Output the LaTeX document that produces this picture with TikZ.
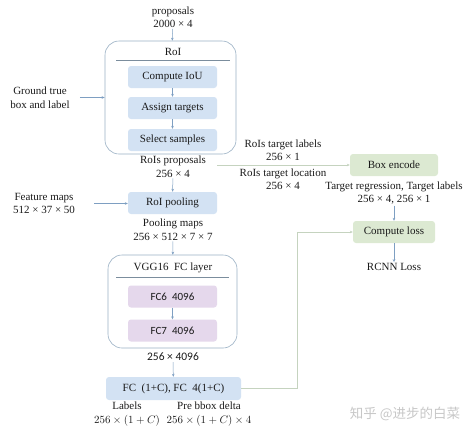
\documentclass[tikz,border=0pt]{standalone}
\usepackage{fontspec}
\setmainfont{Liberation Serif}
\newfontfamily\calfont{Carlito}
\newfontfamily\cjkfont{Noto Sans CJK SC}
\usetikzlibrary{arrows.meta,positioning,calc}
\definecolor{rcBlue}{HTML}{D3E2F3}
\definecolor{rcPurple}{HTML}{E5D8EC}
\definecolor{rcGreen}{HTML}{DCE9D2}
\definecolor{rcFrame}{HTML}{9AB0C4}
\definecolor{rcArrow}{HTML}{7E9FC2}
\definecolor{rcLine}{HTML}{C5D3BF}
\definecolor{rcInk}{HTML}{1A1A1A}

\begin{document}
\begin{tikzpicture}[x=1pt,y=-1pt,
  font=\fontsize{11}{13.5}\selectfont, text=rcInk,
  >={Stealth[length=3pt,width=2.6pt]},
  frame/.style={draw=rcFrame,line width=0.6pt,rounded corners=14pt,fill=white},
  stage/.style={rounded corners=3pt,inner sep=0pt,minimum width=89pt,minimum height=22pt,align=center},
  bluebox/.style={stage,fill=rcBlue},
  fcbox/.style={stage,fill=rcPurple,font=\calfont\fontsize{11}{12}\selectfont},
  greenbox/.style={stage,fill=rcGreen},
  txt/.style={align=center,inner sep=1pt},
  flow/.style={->,draw=rcArrow,line width=0.5pt},
  side/.style={->,draw=rcLine,line width=0.6pt},
  rule/.style={draw=rcFrame!80!black,line width=0.5pt},
]
\useasboundingbox (0,0) rectangle (474,432);

% RoI block
\node[txt]   (prop)   at (173,17)    {proposals\\2000 × 4};
\node[frame,minimum width=131pt,minimum height=113pt] (roi) at (170.5,97.5) {};
\node[txt]   (roit)   at (173,52)    {RoI};
\draw[rule] (116,60) -- (230,60);
\node[bluebox] (iou)    at (172.5,77)  {Compute IoU};
\node[bluebox] (assign) at (172.5,108) {Assign targets};
\node[bluebox] (select) at (172.5,140) {Select samples};
\node[txt]   (gt)     at (40,97.5)   {Ground true\\box and label};

% pooling
\node[txt]   (roisprop) at (173,166.5) {RoIs proposals\\256 × 4};
\node[bluebox] (pool)   at (172.5,203) {RoI pooling};
\node[txt]   (feat)     at (44,203.5)  {Feature maps\\512 × 37 × 50};
\node[txt]   (poolmaps) at (173,229.5) {Pooling maps\\256 × 512 × 7 × 7};

% VGG16 FC layer
\node[frame,minimum width=129pt,minimum height=93pt] (vgg) at (172.5,301.5) {};
\node[txt]   (vggt)   at (173,268)   {VGG16\ \ FC layer};
\draw[rule] (116,277) -- (229,277);
\node[fcbox] (fc6)    at (172.5,296.5) {FC6\ \ 4096};
\node[fcbox] (fc7)    at (172.5,330.5) {FC7\ \ 4096};
\node[txt,font=\calfont\fontsize{11.5}{12}\selectfont] (out4096) at (173,357) {256 × 4096};
\node[bluebox,minimum width=135pt,minimum height=23pt] (fc) at (173.5,388.5) {FC\ \ (1+C), FC\ \ 4(1+C)};
\node[txt]   (labels) at (127,414)   {Labels\\$256\times(1+C)$};
\node[txt]   (delta)  at (209,414)   {Pre bbox delta\\$256\times(1+C)\times4$};

% targets and loss
\node[txt]   (tgtlab) at (283,150)   {RoIs target labels\\256 × 1};
\node[txt]   (tgtloc) at (283,179)   {RoIs target location\\256 × 4};
\node[greenbox,minimum width=88pt] (enc)  at (394,165) {Box encode};
\node[txt]   (tgtreg) at (394,193)   {Target regression, Target labels\\256 × 4, 256 × 1};
\node[greenbox,minimum width=82pt] (loss) at (394,232) {Compute loss};
\node[txt]   (rcnn)   at (394,267)   {RCNN Loss};
\coordinate (turn) at (297,232);

\node[txt,text=black!22,font=\cjkfont\fontsize{13.5}{14}\selectfont] (mark) at (405,414) {知乎 @进步的白菜};

% arrows
\draw[flow] (prop) -- (roi);
\draw[flow,shorten <=9pt] (gt) -- (roi.west |- gt);
\draw[flow] (iou) -- (assign);
\draw[flow] (assign) -- (select);
\draw[flow] (roisprop) -- (pool);
\draw[flow,shorten <=18pt] (feat) -- (pool.west |- feat);
\draw[flow] (poolmaps) -- (vgg);
\draw[flow] (fc6) -- (fc7);
\draw[flow] (out4096) -- (fc);
\draw[side,shorten <=10pt] (roisprop.east |- enc.west) -- (enc.west);
\draw[flow] (tgtreg) -- (loss);
\draw[flow] (loss) -- (rcnn);
\draw[side] (fc.east) -| (turn) -- (loss.west);
\end{tikzpicture}
\end{document}
